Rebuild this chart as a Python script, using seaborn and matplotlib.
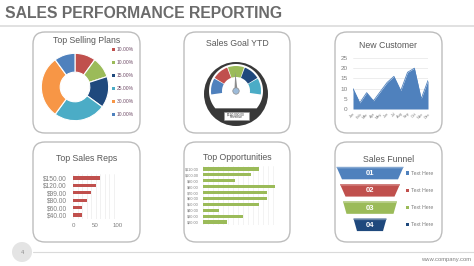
import numpy as np
import pandas as pd
import matplotlib
matplotlib.use("Agg")
import matplotlib.pyplot as plt
import seaborn as sns
from matplotlib.patches import FancyBboxPatch, Wedge, Circle, Polygon, Rectangle

sns.set_theme(style="white")
plt.rcParams['font.family'] = ['Liberation Sans', 'DejaVu Sans']

# ---------------- data ----------------
page_title = "SALES PERFORMANCE REPORTING"
panel_titles = ["Top Selling Plans", "Sales Goal YTD", "New Customer",
                "Top Sales Reps", "Top Opportunities", "Sales Funnel"]

plan_labels = ["10.00%", "10.00%", "15.00%", "25.00%", "30.00%", "10.00%"]
plan_shares = [10, 10, 15, 25, 30, 10]
plan_colors = ["#C0504D", "#9BBB59", "#1F497D", "#4BACC6", "#F79646", "#4F81BD"]

gauge_colors = ["#4F81BD", "#C0504D", "#9BBB59", "#1F497D", "#4BACC6"]
gauge_value = 0.49
gauge_text = ["$150,000.00", "Revenue"]

months = ["Jan", "Feb", "Mar", "Apr", "May", "Jun",
          "Jul", "Aug", "Sep", "Oct", "Nov", "Dec"]
new_customers = [10, 3, 8, 4, 8.5, 13, 16, 9, 18, 20, 5, 14]

rep_labels = ["$150.00", "$120.00", "$99.00", "$80.00", "$60.00", "$40.00"]
rep_values = [60, 51, 40, 30, 20, 20]

opp_labels = ["$110.00", "$100.00", "$90.00", "$80.00", "$70.00",
              "$60.00", "$50.00", "$40.00", "$30.00", "$20.00"]
opp_values = [56, 48, 32, 72, 64, 64, 56, 16, 40, 24]

funnel_labels = ["01", "02", "03", "04"]
funnel_top = [67, 60, 54, 33]
funnel_bottom = [56, 49, 47, 26]
funnel_colors = ["#4F81BD", "#C0504D", "#9BBB59", "#1F497D"]
funnel_legend = ["Text Here", "Text Here", "Text Here", "Text Here"]

footer_page = "4"
footer_url = "www.company.com"

# ---------------- figure ----------------
W, H = 474, 266
fig = plt.figure(figsize=(W / 100, H / 100), dpi=100)
fig.patch.set_facecolor("white")


def px_axes(x0, y0, x1, y1):
    ax = fig.add_axes([x0 / W, 1 - y1 / H, (x1 - x0) / W, (y1 - y0) / H])
    ax.set_facecolor("none")
    return ax


bg = fig.add_axes([0, 0, 1, 1])
bg.set_xlim(0, W)
bg.set_ylim(H, 0)
bg.axis("off")

bg.text(5, 18, page_title, fontsize=11.3, fontweight="bold", color="#6b6b6b",
        va="baseline", ha="left")
bg.plot([0, W], [26, 26], color="#dcdcdc", lw=1.2)

boxes = [(33, 32, 140, 133), (184, 32, 290, 133), (335, 32, 442, 133),
         (33, 142, 140, 242), (184, 142, 290, 242), (335, 142, 442, 242)]
title_pos = [(86.5, 40.5), (237, 43.5), (388.5, 45),
             (86.5, 158.5), (237, 158), (388.5, 159)]
for (x0, y0, x1, y1), t, (tx, ty) in zip(boxes, panel_titles, title_pos):
    bg.add_patch(FancyBboxPatch((x0, y0), x1 - x0, y1 - y0,
                                boxstyle="round,pad=0,rounding_size=12",
                                ec="#bdbdbd", fc="white", lw=1.0))
    bg.text(tx, ty, t, fontsize=6.3, color="#595959", ha="center", va="center")

# footer
bg.add_patch(Circle((22, 252), 10, fc="#e4e4e4", ec="none"))
bg.text(22, 252, footer_page, fontsize=4, color="#8c8c8c", ha="center", va="center")
bg.plot([33, W], [252, 252], color="#dadada", lw=0.8)
bg.text(471, 260, footer_url, fontsize=4.2, color="#7f7f7f", ha="right", va="center")

# ---------------- donut ----------------
ax1 = px_axes(41, 53, 109, 121)
ax1.pie(plan_shares, colors=plan_colors, startangle=90, counterclock=False,
        wedgeprops=dict(width=0.56, edgecolor="white", linewidth=0.8))
ax1.set_xlim(-1.01, 1.01)
ax1.set_ylim(-1.01, 1.01)
ax1.set_aspect("equal")
for i, (lab, c) in enumerate(zip(plan_labels, plan_colors)):
    y = 49.3 + i * 13.1
    bg.add_patch(Rectangle((112, y - 1.6), 3.2, 3.2, fc=c, ec="none"))
    bg.text(116.3, y, lab, fontsize=3.6, color="#6e4a66", va="center", ha="left")

# ---------------- gauge ----------------
ax2 = px_axes(200, 55, 272, 127)
ax2.set_xlim(-36, 36)
ax2.set_ylim(-36, 36)
ax2.axis("off")
ax2.add_patch(Circle((0, -3), 32, fc="#383838", ec="none", clip_on=False))
ang = np.radians(np.linspace(-40, 220, 120))
ax2.add_patch(Polygon(np.c_[27 * np.cos(ang), 27 * np.sin(ang)], closed=True,
                      fc="white", ec="none"))
start, span = 189.0, 198.0
seg = span / len(gauge_colors)
for i, c in enumerate(gauge_colors):
    a0 = start - i * seg
    a1 = a0 - seg
    ax2.add_patch(Wedge((0, 0), 25, a1 + 1.0, a0 - 1.0, width=11, fc=c, ec="none"))
na = np.radians(start - gauge_value * span)
perp = na + np.pi / 2
tip = (19 * np.cos(na), 19 * np.sin(na))
b1 = (1.6 * np.cos(perp), 1.6 * np.sin(perp))
b2 = (-1.6 * np.cos(perp), -1.6 * np.sin(perp))
ax2.add_patch(Polygon([tip, b1, b2], closed=True, fc="#8c8c8c", ec="none"))
ax2.add_patch(Circle((0, 0), 3.2, fc="#9dbbd9", ec="#8c8c8c", lw=0.5))
ax2.add_patch(Rectangle((-12.5, -28.5), 25, 7.5, fc="white", ec="#9a9a9a", lw=0.4))
ax2.text(0, -23.2, gauge_text[0], fontsize=2.3, color="#333333", ha="center", va="center")
ax2.text(0, -26.4, gauge_text[1], fontsize=2.3, color="#333333", ha="center", va="center")

# ---------------- new customer area ----------------
ax3 = px_axes(353, 58, 428, 109)
idx = np.arange(len(months))
cust_df = pd.DataFrame({"month": idx, "value": new_customers})
sns.lineplot(data=cust_df, x="month", y="value", ax=ax3, color="#4F81BD", lw=0.6)
ax3.fill_between(cust_df["month"], cust_df["value"], color="#4F81BD", lw=0)
ax3.set_xlim(0, len(months) - 1)
ax3.set_ylim(0, 25)
ax3.set_yticks([0, 5, 10, 15, 20, 25])
ax3.set_xticks(idx)
ax3.set_xticklabels(months, rotation=45, ha="right", rotation_mode="anchor",
                    fontsize=2.8, color="#7f7f7f")
ax3.tick_params(axis="y", labelsize=4.6, labelcolor="#7f7f7f", length=0, pad=4)
ax3.tick_params(axis="x", length=0, pad=2)
ax3.yaxis.grid(True, color="#e6e6e6", lw=0.5)
ax3.set_axisbelow(True)
ax3.set_xlabel("")
ax3.set_ylabel("")
for s in ax3.spines.values():
    s.set_visible(False)

# ---------------- top sales reps ----------------
ax4 = px_axes(73, 174.3, 118, 218.7)
rep_df = pd.DataFrame({"rep": rep_labels, "value": rep_values})
sns.barplot(data=rep_df, y="rep", x="value", orient="h", color="#C0504D",
            saturation=1, width=0.42, ax=ax4, edgecolor="none", linewidth=0)
ax4.set_xlim(0, 100)
ax4.set_ylim(len(rep_labels) - 0.5, -0.5)
ax4.set_xticks([0, 50, 100])
ax4.set_xticks(np.arange(0, 101, 10), minor=True)
ax4.xaxis.grid(True, which="both", color="#ececec", lw=0.5)
ax4.set_axisbelow(True)
ax4.tick_params(axis="y", labelsize=4.8, labelcolor="#7f7f7f", length=0, pad=4.3)
ax4.tick_params(axis="x", which="both", labelsize=4.4, labelcolor="#7f7f7f", length=0, pad=3)
ax4.set_xlabel("")
ax4.set_ylabel("")
for s in ax4.spines.values():
    s.set_visible(False)

# ---------------- top opportunities ----------------
ax5 = px_axes(203, 166, 278, 225)
opp_df = pd.DataFrame({"opp": opp_labels, "value": opp_values})
sns.barplot(data=opp_df, y="opp", x="value", orient="h", color="#9BBB59",
            saturation=1, width=0.55, ax=ax5, edgecolor="none", linewidth=0)
ax5.set_xlim(0, 75)
ax5.set_ylim(len(opp_labels) - 0.5, -0.5)
ax5.set_xticks(np.arange(0, 76, 5))
ax5.xaxis.grid(True, color="#efefef", lw=0.5)
ax5.set_axisbelow(True)
ax5.set_xticklabels([])
ax5.tick_params(axis="y", labelsize=2.8, labelcolor="#7f7f7f", length=0, pad=3)
ax5.tick_params(axis="x", length=0)
ax5.set_xlabel("")
ax5.set_ylabel("")
for s in ax5.spines.values():
    s.set_visible(False)

# ---------------- sales funnel ----------------
ax6 = px_axes(330, 164.5, 434, 233.5)
ax6.set_xlim(-40, 64)
ax6.set_ylim(len(funnel_labels) - 0.5, -0.5)
ax6.axis("off")
hh = 0.36
for i, (lab, tw, bw, c, lt) in enumerate(zip(funnel_labels, funnel_top, funnel_bottom,
                                             funnel_colors, funnel_legend)):
    xs = [-tw / 2, tw / 2, bw / 2, -bw / 2]
    ys = [i - hh, i - hh, i + hh, i + hh]
    ax6.fill(xs, ys, color=c, lw=0)
    rgb = np.array(matplotlib.colors.to_rgb(c))
    light = rgb + (1 - rgb) * 0.3
    f = 0.12
    mw = tw + (bw - tw) * f
    ax6.fill([-tw / 2, tw / 2, mw / 2, -mw / 2],
             [i - hh, i - hh, i - hh + 2 * hh * f, i - hh + 2 * hh * f],
             color=light, lw=0)
    ax6.text(0, i + 0.03, lab, color="white", fontsize=5.5, ha="center", va="center",
             fontweight="semibold")
    ax6.add_patch(Rectangle((35.7, i - 0.1), 3.3, 0.19, fc=c, ec="none"))
    ax6.text(40.6, i, lt, fontsize=3.8, color="#7f7f7f", ha="left", va="center")

fig.savefig("out.png", dpi=100)
